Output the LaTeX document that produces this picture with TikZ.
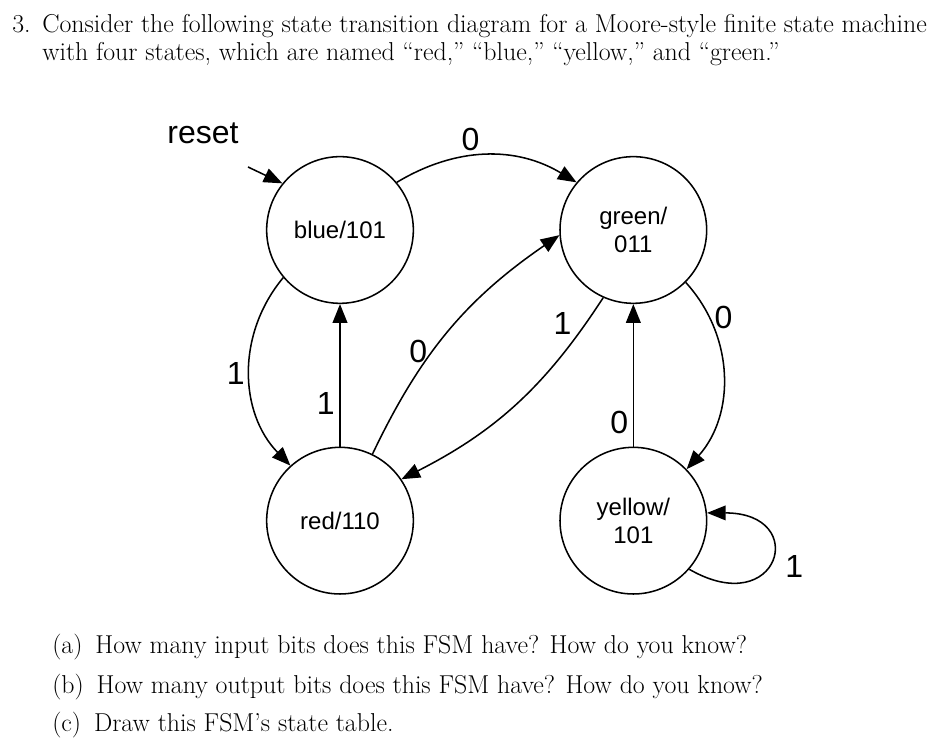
\documentclass[tikz,border=0pt]{standalone}
\usepackage{fontspec}
\usetikzlibrary{positioning,arrows.meta}
\newfontfamily\diagfont{Liberation Sans}

\begin{document}
\begin{tikzpicture}[x=0.75pt,y=0.75pt,node distance=218pt and 220pt,on grid,
  state/.style={draw,circle,line width=1.15pt,minimum size=110pt,inner sep=0pt,align=center,font=\diagfont\fontsize{18}{21}\selectfont},
  arr/.style={-{Triangle[length=14pt,width=11pt]},line width=1.15pt},
  lbl/.style={font=\diagfont\fontsize{24}{28}\selectfont},
  txt/.style={anchor=base west,inner sep=0pt,font=\fontsize{19.4}{23}\selectfont}]
\useasboundingbox (0,0) rectangle (940,746);
\node[txt] (num) at (12,713) {3.};
\node[txt] (line1) at (42,713) {Consider the following state transition diagram for a Moore-style finite state machine};
\node[txt] (line2) at (42,685) {with four states, which are named ``red,'' ``blue,'' ``yellow,'' and ``green.''};
\node[state] (blue) at (340,516) {blue/101};
\node[state,right=of blue] (green) {green/\\011};
\node[state,below=of blue] (red) {red/110};
\node[state,below=of green] (yellow) {yellow/\\101};
\node[lbl] (reset) at (203,613) {reset};
\coordinate (resetin) at (248,579);
\draw[arr] (resetin) -- (blue.141);
\draw[arr] (blue.40) to[bend left=31] node[lbl,pos=.41,above] {0} (green.140);
\draw[arr] (blue.220) to[bend right=42] node[lbl,left] {1} (red.132);
\draw[arr] (red) -- node[lbl,pos=.3,left] {1} (blue);
\draw[arr] (red.64) to[bend left=15] node[lbl,pos=.4,left] {0} (green.184);
\draw[arr] (green.246) to[bend left=15] node[lbl,pos=.1,left=7pt] {1} (red.34);
\draw[arr] (yellow) -- node[lbl,pos=.17,left] {0} (green);
\draw[arr] (green.315) to[bend left=42] node[lbl,pos=.2,right] {0} (yellow.44);
\draw[arr] (yellow.319) to[out=-30,in=0,looseness=4.5] node[lbl,pos=.45,right=9pt] {1} (yellow.6);
\node[txt] (qa) at (52,92) {(a)\enspace How many input bits does this FSM have? How do you know?};
\node[txt] (qb) at (52,52) {(b)\enspace How many output bits does this FSM have? How do you know?};
\node[txt] (qc) at (52,14) {(c)\enspace Draw this FSM's state table.};
\end{tikzpicture}
\end{document}
